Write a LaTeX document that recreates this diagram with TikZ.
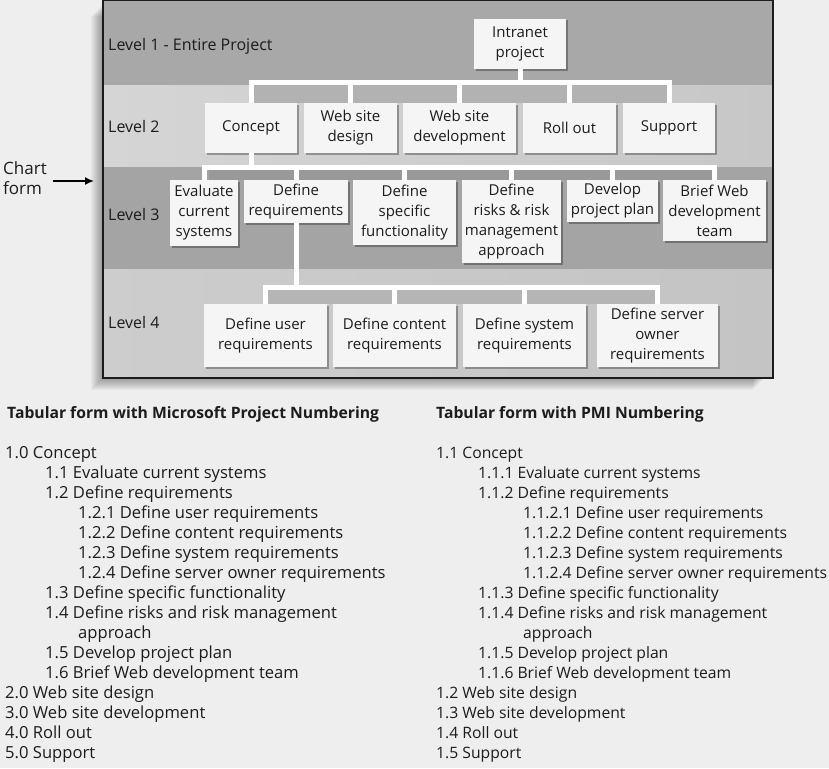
\documentclass[tikz,border=0pt]{standalone}
\usepackage{fontspec}
\setmainfont{Open Sans}
\usetikzlibrary{arrows.meta,shadows}

\definecolor{pagebg}{RGB}{238,238,238}
\definecolor{bandA}{RGB}{168,168,168}
\definecolor{bandB}{RGB}{199,199,199}
\definecolor{bandC}{RGB}{164,164,164}
\definecolor{bandD}{RGB}{196,196,196}
\definecolor{boxfill}{RGB}{245,245,245}
\definecolor{ink}{RGB}{28,28,28}

\newcommand{\boxfont}{\fontsize{15}{20}\selectfont}
\newcommand{\lvlfont}{\fontsize{16}{20}\selectfont}
\newcommand{\listfont}{\fontsize{16.6}{20}\selectfont}
\newcommand{\pmifont}{\fontsize{15.7}{20}\selectfont}
\newcommand{\headfont}{\fontsize{15.7}{20}\selectfont\bfseries}

\begin{document}
\begin{tikzpicture}[x=1pt,y=-1pt,
  wbs/.style={fill=boxfill, text=ink, align=center, inner sep=2pt, font=\boxfont,
    drop shadow={shadow xshift=1.5pt, shadow yshift=-1.5pt, fill=black, opacity=0.3}},
  conn/.style={draw=white, line width=5pt},
  lvl/.style={anchor=base west, inner sep=0pt, font=\lvlfont, text=ink},
  entry/.style={anchor=base west, inner sep=0pt, font=\listfont, text=ink},
  chartarrow/.style={-{Latex[length=9pt,width=8pt]}, line width=1.6pt, draw=black}]
  \useasboundingbox[fill=pagebg] (0,0) rectangle (829,768);

  % panel, its shadow and the level bands
  \foreach \s in {1,...,12}
    \fill[black, opacity=0.03] (103-\s,4+\s) rectangle (765-\s,378+\s);
  \fill[bandA] (103,0) rectangle (773,85);
  \shade[left color=bandB!75!white, right color=bandB] (103,85) rectangle (773,167);
  \fill[bandC] (103,167) rectangle (773,269);
  \shade[left color=bandD!85!white, right color=bandD] (103,269) rectangle (773,378);
  \draw[ink, line width=1.2pt] (103,0) rectangle (773,378);

  % shade below the bars
  \fill[black!30] (251,85) rectangle (669,103);
  \fill[black!40] (209,170) rectangle (715,180);
  \fill[black!29] (266,290) rectangle (657,304);

  \node[lvl] (lvl1) at (108,51) {Level 1 - Entire Project};
  \node[lvl] (lvl2) at (108,132) {Level 2};
  \node[lvl] (lvl3) at (108,220) {Level 3};
  \node[lvl] (lvl4) at (108,328) {Level 4};

  % level 1 and 2
  \node[wbs, minimum width=92, minimum height=50] (intranet) at (520,44) {Intranet\\project};
  \node[wbs, minimum width=92, minimum height=50] (concept) at (251,128) {Concept};
  \node[wbs, minimum width=93, minimum height=50] (design) at (350.5,128) {Web site\\design};
  \node[wbs, minimum width=113, minimum height=50] (devel) at (459.5,128) {Web site\\development};
  \node[wbs, minimum width=93, minimum height=50] (rollout) at (569.5,128) {Roll out};
  \node[wbs, minimum width=92, minimum height=50] (support) at (669,128) {Support};

  % level 3
  \node[wbs, minimum width=68, minimum height=66] (evaluate) at (204,213) {Evaluate\\current\\systems};
  \node[wbs, minimum width=104, minimum height=43] (defreq) at (296,201.5) {Define\\requirements};
  \node[wbs, minimum width=103, minimum height=65] (specific) at (404.5,212.5) {Define\\specific\\functionality};
  \node[wbs, minimum width=99, minimum height=83] (risks) at (511.5,221.5) {Define\\risks \& risk\\management\\approach};
  \node[wbs, minimum width=91, minimum height=42] (plan) at (612.5,201) {Develop\\project plan};
  \node[wbs, minimum width=103, minimum height=61] (brief) at (714.5,210.5) {Brief Web\\development\\team};

  % level 4
  \node[wbs, minimum width=123, minimum height=63] (userreq) at (265.5,335.5) {Define user\\requirements};
  \node[wbs, minimum width=123, minimum height=63] (contreq) at (394.5,335.5) {Define content\\requirements};
  \node[wbs, minimum width=123, minimum height=63] (sysreq) at (524.5,335.5) {Define system\\requirements};
  \node[wbs, minimum width=121, minimum height=63] (servreq) at (657.5,335.5) {Define server\\owner\\requirements};

  \foreach \c in {concept,design,devel,rollout,support}
    \draw[conn] (intranet.south) -- ++(0,13) -| (\c.north);
  \foreach \c in {evaluate,defreq,specific,risks,plan,brief}
    \draw[conn] (concept.south) -- ++(0,14.5) -| (\c.north);
  \foreach \c in {userreq,contreq,sysreq,servreq}
    \draw[conn] (defreq.south) -- ++(0,64.5) -| (\c.north);

  \node[anchor=west, align=left, inner sep=0pt, font=\fontsize{17}{20}\selectfont, text=ink] (chartlbl) at (3,178) {Chart\\form};
  \coordinate (arrowtip) at (94,181);
  \draw[chartarrow] ([xshift=6pt]chartlbl.east |- arrowtip) -- (arrowtip);

  % tabular forms
  \node[entry, font=\headfont] (msptitle) at (7,418) {Tabular form with Microsoft Project Numbering};
  \node[entry, font=\headfont] (pmititle) at (436,418) {Tabular form with PMI Numbering};
  \foreach \x/\txt [count=\i] in {5/1.0 Concept, 45/1.1 Evaluate current systems,
      45/1.2 Define requirements, 78/1.2.1 Define user requirements,
      78/1.2.2 Define content requirements, 78/1.2.3 Define system requirements,
      78/1.2.4 Define server owner requirements, 45/1.3 Define specific functionality,
      45/1.4 Define risks and risk management, 78/approach,
      45/1.5 Develop project plan, 45/1.6 Brief Web development team,
      5/2.0 Web site design, 5/3.0 Web site development, 5/4.0 Roll out, 5/5.0 Support}
    \node[entry] (msp\i) at (\x,438+20*\i) {\txt};
  \foreach \x/\txt [count=\i] in {436/1.1 Concept, 478/1.1.1 Evaluate current systems,
      478/1.1.2 Define requirements, 523/1.1.2.1 Define user requirements,
      523/1.1.2.2 Define content requirements, 523/1.1.2.3 Define system requirements,
      523/1.1.2.4 Define server owner requirements, 478/1.1.3 Define specific functionality,
      478/1.1.4 Define risks and risk management, 523/approach,
      478/1.1.5 Develop project plan, 478/1.1.6 Brief Web development team,
      436/1.2 Web site design, 436/1.3 Web site development, 436/1.4 Roll out, 436/1.5 Support}
    \node[entry, font=\pmifont] (pmi\i) at (\x,438+20*\i) {\txt};
\end{tikzpicture}
\end{document}
